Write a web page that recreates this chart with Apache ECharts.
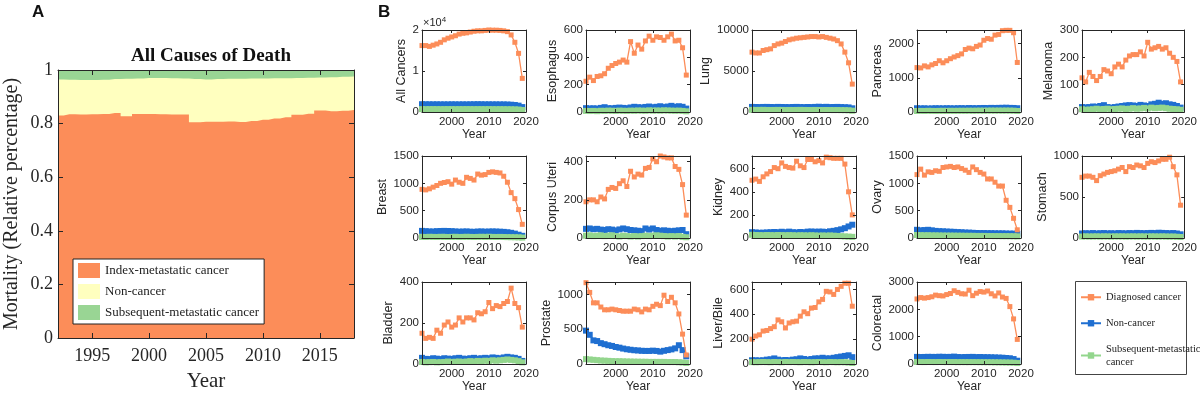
<!DOCTYPE html>
<html><head><meta charset="utf-8">
<script src="https://cdn.jsdelivr.net/npm/echarts@6/dist/echarts.min.js"></script>
<style>html,body{margin:0;padding:0;background:#fff}#c{width:1200px;height:397px}</style>
</head><body><div id="c"></div>
<script>
// ---------- Panel A data (relative share of deaths) ----------
const yearsA = [1992,1993,1994,1995,1996,1997,1998,1999,2000,2001,2002,2003,2004,2005,2006,2007,2008,2009,2010,2011,2012,2013,2014,2015,2016,2017,2018];
const indexMetastatic = [.830,.835,.834,.835,.836,.840,.827,.836,.836,.835,.834,.834,.805,.807,.807,.808,.806,.810,.814,.819,.824,.833,.837,.849,.846,.848,.851];
const nonCancerShare = [.135,.129,.129,.128,.128,.126,.140,.132,.134,.135,.135,.134,.161,.158,.159,.159,.161,.158,.154,.150,.145,.137,.134,.123,.127,.127,.125];
const subsequentShare = [.035,.036,.037,.037,.036,.034,.033,.032,.030,.030,.031,.032,.034,.035,.034,.033,.033,.032,.032,.031,.031,.030,.029,.028,.027,.025,.024];
const xTicksA = [1995,2000,2005,2010,2015];
const yTicksA = [0,0.2,0.4,0.6,0.8,1];

// ---------- Panel B data (counts per year) ----------
const yearsB = [1992,1993,1994,1995,1996,1997,1998,1999,2000,2001,2002,2003,2004,2005,2006,2007,2008,2009,2010,2011,2012,2013,2014,2015,2016,2017,2018,2019];
const xTicksB = [2000,2010,2020];
const cancerNames = ['All Cancers','Esophagus','Lung','Pancreas','Melanoma','Breast','Corpus Uteri','Kidney','Ovary','Stomach','Bladder','Prostate','Liver/Bile','Colorectal'];

const allCancersDiag = [16200,16200,16000,16300,16600,17000,17600,18000,18300,18600,19000,19200,19300,19500,19700,19800,19800,19900,20000,19950,19950,19900,19800,19600,18800,17000,14300,8200];
const allCancersNon  = [1900,1880,1870,1860,1870,1850,1860,1850,1870,1860,1850,1860,1850,1870,1880,1900,1880,1860,1870,1850,1860,1840,1850,1820,1780,1700,1550,1200];
const allCancersSub  = [700,690,700,710,700,690,700,710,700,690,700,700,710,700,690,700,700,690,700,690,680,690,680,670,660,640,600,480];

const esophagusDiag = [225,255,230,260,265,280,320,340,355,365,380,365,515,430,490,460,520,555,525,550,545,525,550,570,520,525,470,270];
const esophagusNon  = [28,26,27,25,30,35,28,27,30,32,30,28,33,38,35,33,37,40,35,38,42,36,40,45,38,42,38,25];
const esophagusSub  = [8,7,8,6,9,8,10,9,8,10,9,8,10,9,11,10,9,12,10,11,10,12,11,10,9,10,8,5];

const lungDiag = [7300,7200,7200,7500,7600,7700,8100,8300,8400,8600,8800,8900,9000,9050,9100,9150,9200,9200,9150,9200,9100,9000,8900,8700,8300,7300,6000,3400];
const lungNon  = [620,610,600,615,620,610,600,620,610,600,590,610,620,600,590,610,600,620,640,610,630,600,610,620,600,580,560,450];
const lungSub  = [260,250,255,260,250,245,250,255,250,240,250,245,250,255,250,245,240,250,245,240,245,240,235,240,230,225,210,160];

const pancreasDiag = [1300,1290,1350,1320,1380,1420,1500,1440,1500,1560,1610,1650,1700,1830,1870,1850,1920,1960,2100,2150,2130,2250,2270,2380,2390,2390,2320,1450];
const pancreasNon  = [110,105,108,100,105,110,108,105,110,108,105,110,112,108,115,112,110,115,118,115,120,118,120,122,125,120,118,110];
const pancreasSub  = [30,32,30,35,32,30,33,35,32,35,33,35,36,35,38,36,38,40,38,40,42,40,42,40,42,40,38,30];

const melanomaDiag = [125,110,145,130,115,130,155,150,140,165,175,165,190,205,210,210,220,205,255,230,235,240,230,235,215,200,185,110];
const melanomaNon  = [18,17,18,20,19,22,25,18,16,18,20,22,24,25,24,22,26,24,22,28,30,34,30,32,28,26,22,16];
const melanomaSub  = [10,8,9,10,12,10,11,12,10,11,12,13,11,12,14,12,13,15,13,16,14,15,16,14,12,11,10,8];

const breastDiag = [890,880,900,930,960,1000,1015,1030,985,1060,1020,1000,1110,1090,1060,1170,1150,1160,1200,1210,1200,1190,1130,1020,830,720,520,250];
const breastNon  = [130,125,120,118,125,128,130,128,125,120,115,118,120,115,112,118,120,115,118,120,118,115,112,105,95,80,60,40];
const breastSub  = [20,18,22,20,18,22,20,18,20,22,18,20,22,20,18,20,22,20,22,20,18,20,18,16,15,14,12,8];

const corpusUteriDiag = [190,200,200,190,215,205,255,265,260,285,300,270,350,320,335,330,365,370,415,400,430,425,420,420,375,360,280,120];
const corpusUteriNon  = [48,50,46,48,44,42,46,44,40,45,50,46,42,40,38,36,50,44,50,42,38,40,38,36,38,40,42,20];
const corpusUteriSub  = [12,14,10,12,14,10,12,14,10,8,12,10,8,10,8,10,12,10,12,14,12,10,8,10,8,10,6,4];

const kidneyDiag = [500,510,490,530,555,575,610,600,650,620,610,605,665,625,610,680,680,660,670,650,700,695,690,690,690,640,400,200];
const kidneyNon  = [50,48,45,46,48,50,52,50,54,50,55,50,48,52,50,55,56,54,55,55,52,58,62,68,75,85,100,115];
const kidneySub  = [28,26,25,24,26,25,24,26,25,24,25,24,22,24,23,22,24,22,20,22,20,22,20,18,16,14,12,10];

const ovaryDiag = [1160,1260,1150,1210,1200,1230,1220,1290,1300,1310,1290,1300,1270,1240,1200,1300,1250,1200,1170,1080,1080,1020,950,950,690,560,360,150];
const ovaryNon  = [150,140,145,150,140,130,125,122,118,115,112,108,105,100,98,95,92,90,90,88,88,86,85,85,82,80,80,78];
const ovarySub  = [55,52,50,50,48,48,46,45,44,44,43,42,42,40,40,40,38,38,38,36,36,35,35,34,34,33,32,30];

const stomachDiag = [740,755,755,740,700,760,780,800,810,820,840,860,810,870,860,890,880,860,910,930,920,940,960,960,985,870,770,400];
const stomachNon  = [55,58,56,60,55,58,60,56,58,55,60,58,56,60,58,62,60,58,60,62,60,64,62,60,58,60,55,45];
const stomachSub  = [18,20,18,19,20,18,20,19,18,20,19,20,18,19,20,18,20,19,18,20,19,18,20,18,17,18,15,12];

const bladderDiag = [150,125,130,125,165,150,190,205,180,190,225,205,225,225,215,250,245,255,300,270,285,280,295,305,370,295,275,180];
const bladderNon  = [30,25,24,28,26,24,28,26,25,28,30,26,25,28,30,26,28,30,28,32,30,28,32,35,32,30,25,15];
const bladderSub  = [10,8,9,10,8,9,10,12,10,11,12,10,12,14,12,15,14,16,15,18,16,18,20,22,20,18,14,8];

const prostateDiag = [1170,1030,880,880,820,780,780,790,780,770,760,760,760,790,780,750,790,780,830,860,840,990,900,960,880,720,430,130];
const prostateNon  = [480,420,340,330,300,285,270,260,245,235,222,212,205,198,195,190,188,188,192,188,178,190,200,210,225,270,200,110];
const prostateSub  = [70,65,60,55,50,48,45,42,40,40,38,36,35,34,33,32,32,30,30,30,30,30,28,28,28,25,22,15];

const liverBileDiag = [200,225,235,265,270,285,300,355,340,290,330,340,345,385,420,405,450,455,500,520,585,580,560,600,625,650,650,465];
const liverBileNon  = [30,30,28,30,35,38,45,35,30,32,30,35,38,45,40,35,40,45,45,50,45,45,50,55,60,65,70,55];
const liverBileSub  = [15,14,15,16,15,14,16,15,14,16,15,16,15,14,16,15,14,15,16,15,14,16,15,14,15,14,12,8];

const colorectalDiag = [2380,2430,2410,2430,2460,2520,2500,2490,2540,2580,2680,2620,2570,2560,2700,2500,2590,2650,2630,2670,2570,2490,2600,2450,2400,2100,1650,900];
const colorectalNon  = [260,255,258,262,260,258,265,262,258,260,270,255,250,255,258,260,252,255,250,248,245,240,235,230,220,210,180,120];
const colorectalSub  = [75,72,70,74,72,70,73,71,70,72,70,68,70,69,68,70,68,67,66,65,64,62,60,58,55,52,48,35];

// y-axis tick labels and upper limits for each small panel
const yTicksB = [[0,10000,20000],[0,200,400,600],[0,5000,10000],[0,1000,2000],[0,100,200,300],[0,500,1000,1500],[0,200,400],[0,200,400,600],[0,500,1000,1500],[0,500,1000],[0,200,400],[0,500,1000],[0,200,400,600],[0,1000,2000,3000]];
const yMaxB = [20000,600,10000,2400,300,1500,430,710,1500,1000,400,1180,660,3000];

const diagSets = [allCancersDiag,esophagusDiag,lungDiag,pancreasDiag,melanomaDiag,breastDiag,corpusUteriDiag,kidneyDiag,ovaryDiag,stomachDiag,bladderDiag,prostateDiag,liverBileDiag,colorectalDiag];
const nonSets  = [allCancersNon,esophagusNon,lungNon,pancreasNon,melanomaNon,breastNon,corpusUteriNon,kidneyNon,ovaryNon,stomachNon,bladderNon,prostateNon,liverBileNon,colorectalNon];
const subSets  = [allCancersSub,esophagusSub,lungSub,pancreasSub,melanomaSub,breastSub,corpusUteriSub,kidneySub,ovarySub,stomachSub,bladderSub,prostateSub,liverBileSub,colorectalSub];

// ---------- styling ----------
const SERIF = 'Liberation Serif, Times New Roman, serif';
const SANS = 'Liberation Sans, Arial, Helvetica, sans-serif';
const AX = '#262626';
const ORANGE = '#fc8d59', YELLOW = '#ffffbf', GREEN = '#99d594';
const BLUE = '#1f6fd1', LGREEN = '#93d68d';
const plain = v => String(v);

const grids = [], xAxes = [], yAxes = [], series = [];

function boxAxes(gi, xmin, xmax, ymin, ymax, xt, yt, tickLen, mainX, mainY) {
  const line = {show:true, onZero:false, lineStyle:{color:AX, width:1}};
  xAxes.push(Object.assign({gridIndex:gi, type:'value', min:xmin, max:xmax, position:'bottom', z:10,
    axisLine:line, axisTick:{show:true, inside:true, length:tickLen, customValues:xt, lineStyle:{color:AX}},
    splitLine:{show:false}}, mainX));
  xAxes.push({gridIndex:gi, type:'value', min:xmin, max:xmax, position:'top', z:10,
    axisLine:line, axisTick:{show:true, inside:true, length:tickLen, customValues:xt, lineStyle:{color:AX}},
    axisLabel:{show:false}, splitLine:{show:false}});
  yAxes.push(Object.assign({gridIndex:gi, type:'value', min:ymin, max:ymax, position:'left', z:10,
    axisLine:line, axisTick:{show:true, inside:true, length:tickLen, customValues:yt, lineStyle:{color:AX}},
    splitLine:{show:false}}, mainY));
  yAxes.push({gridIndex:gi, type:'value', min:ymin, max:ymax, position:'right', z:10,
    axisLine:line, axisTick:{show:true, inside:true, length:tickLen, customValues:yt, lineStyle:{color:AX}},
    axisLabel:{show:false}, splitLine:{show:false}});
}

// Panel A
grids.push({left:58, top:70, width:296, height:273});
boxAxes(0, 1992, 2018, 0, 1, xTicksA, yTicksA, 5,
  {axisLabel:{customValues:xTicksA, formatter:plain, fontFamily:SERIF, fontSize:18, color:AX, margin:9},
   name:'Year', nameLocation:'middle', nameGap:33, nameTextStyle:{fontFamily:SERIF, fontSize:21, color:AX}},
  {axisLabel:{customValues:yTicksA, formatter:plain, fontFamily:SERIF, fontSize:18, color:AX, margin:5},
   name:'Mortality (Relative percentage)', nameLocation:'middle', nameGap:36, nameTextStyle:{fontFamily:SERIF, fontSize:20, color:AX}});

const topYellow = yearsA.map((y,i)=>indexMetastatic[i]+nonCancerShare[i]);
const topGreen = yearsA.map((y,i)=>indexMetastatic[i]+nonCancerShare[i]+subsequentShare[i]);
const areaSeries = (name, color, vals) => ({
  name, type:'line', xAxisIndex:0, yAxisIndex:0, step:'middle', symbol:'none', color,
  lineStyle:{width:0, color}, itemStyle:{color}, areaStyle:{color, opacity:1},
  data: yearsA.map((y,i)=>[y, vals[i]]), silent:true, z:2
});
series.push(areaSeries('A-Subsequent-metastatic cancer', GREEN, topGreen));
series.push(areaSeries('A-Non-cancer', YELLOW, topYellow));
series.push(areaSeries('A-Index-metastatic cancer', ORANGE, indexMetastatic));

// Panel B small multiples
const colLeft = [422,586,752,917,1082];
const rowTop = [30,156,282];
cancerNames.forEach((nm, k) => {
  const gi = k + 1;
  const r = Math.floor(k/5), c = k%5;
  grids.push({left:colLeft[c], top:rowTop[r], width:104, height:82});
  const ticks = yTicksB[k];
  const fmt = k === 0 ? (v => String(v/10000)) : plain;
  const labLen = Math.max(...ticks.map(t => fmt(t).length));
  boxAxes(gi, 1992, 2020, 0, yMaxB[k], xTicksB, ticks, 3,
    {axisLabel:{customValues:xTicksB, formatter:plain, fontFamily:SANS, fontSize:11.5, color:AX, margin:4},
     name:'Year', nameLocation:'middle', nameGap:17, nameTextStyle:{fontFamily:SANS, fontSize:12, color:AX}},
    {axisLabel:{customValues:ticks, formatter:fmt, fontFamily:SANS, fontSize:11.5, color:AX, margin:3},
     name:nm, nameLocation:'middle', nameGap: 6.3*labLen + 8, nameTextStyle:{fontFamily:SANS, fontSize:12.5, color:AX}});
  const xi = 2*gi, yi = 2*gi;
  const lineSeries = (name, color, vals, size, lw, z) => ({
    name, type:'line', xAxisIndex:xi, yAxisIndex:yi, symbol:'rect', symbolSize:size, color,
    lineStyle:{width:lw, color}, itemStyle:{color}, data: yearsB.map((y,i)=>[y, vals[i]]), z, silent:true
  });
  series.push(lineSeries('Non-cancer', BLUE, nonSets[k], 6, 1.8, 3));
  series.push(lineSeries('Subsequent-metastatic cancer', LGREEN, subSets[k], 6, 1.8, 4));
  series.push(lineSeries('Diagnosed cancer', ORANGE, diagSets[k], 5, 1.3, 5));
});

const option = {
  animation:false,
  backgroundColor:'#ffffff',
  title:{text:'All Causes of Death', left:206, top:42, textAlign:'center',
    textStyle:{fontFamily:SERIF, fontSize:19, fontWeight:'bold', color:'#111'}},
  grid:grids, xAxis:xAxes, yAxis:yAxes, series,
  legend:[
    {data:['A-Index-metastatic cancer','A-Non-cancer','A-Subsequent-metastatic cancer'],
     formatter: n => n.replace(/^A-/, ''), orient:'vertical', left:73, top:259,
     icon:'rect', itemWidth:22, itemHeight:15, itemGap:6, padding:[4,5,4,5],
     backgroundColor:'#ffffff', borderColor:'#222', borderWidth:1, selectedMode:false,
     textStyle:{fontFamily:SERIF, fontSize:13, color:'#222'}, z:20},
    {data:['Diagnosed cancer','Non-cancer','Subsequent-metastatic cancer'],
     formatter: n => n === 'Subsequent-metastatic cancer' ? 'Subsequent-metastatic\ncancer' : n,
     orient:'vertical', left:1073, top:279, itemWidth:20, itemHeight:8, itemGap:13.5, padding:[12,4,5,7],
     selectedMode:false, textStyle:{fontFamily:SERIF, fontSize:10.5, color:'#222', lineHeight:12.5}, z:20}
  ],
  graphic:[
    {type:'rect', left:1073, top:279, shape:{width:111, height:93}, style:{fill:'none', stroke:'#444', lineWidth:1}, z:19},
    {type:'text', left:32, top:4, style:{text:'A', font:'bold 17px Liberation Sans, Arial, sans-serif', fill:'#111'}},
    {type:'text', left:378, top:4, style:{text:'B', font:'bold 17px Liberation Sans, Arial, sans-serif', fill:'#111'}},
    {type:'text', left:423, top:16, style:{text:'×10{s|4}', font:'11px Liberation Sans, Arial, sans-serif', fill:AX,
      rich:{s:{fontSize:8, verticalAlign:'top', padding:[0,0,6,0], fontFamily:SANS, fill:AX}}}}
  ]
};
const chart = echarts.init(document.getElementById('c'), null, {renderer:'canvas'});
chart.setOption(option);
</script>
</body></html>
